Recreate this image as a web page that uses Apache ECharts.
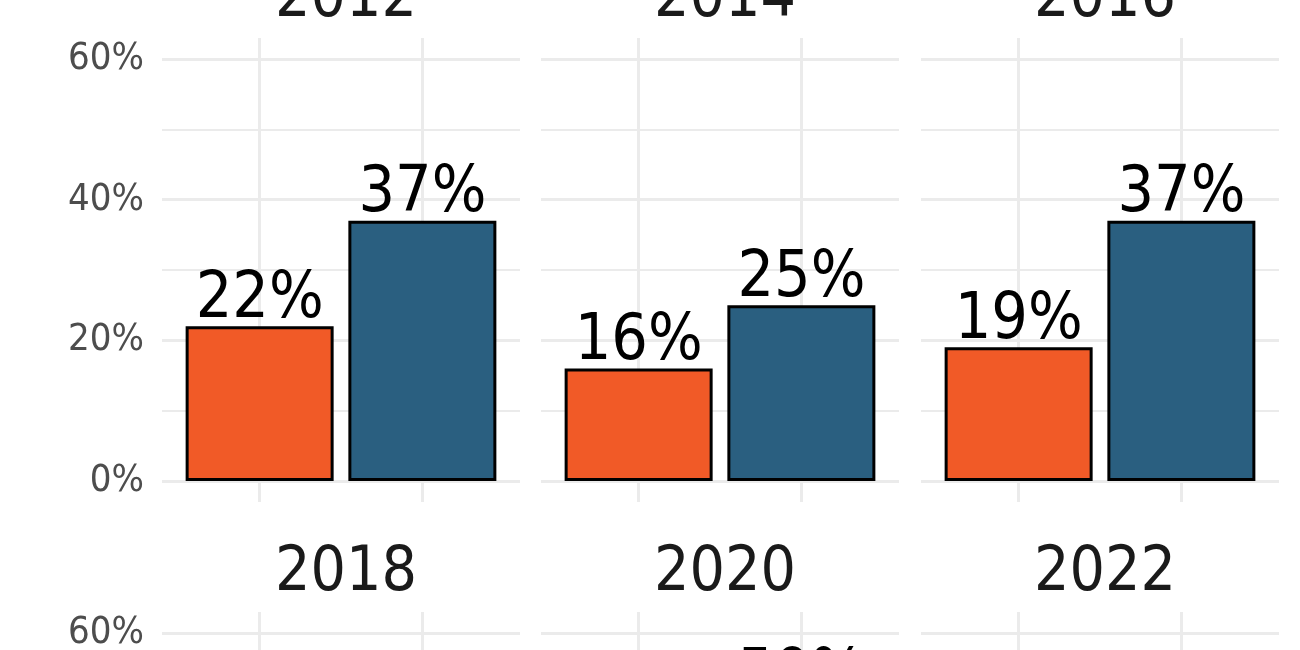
<!DOCTYPE html>
<html><head><meta charset="utf-8">
<script src="https://cdn.jsdelivr.net/npm/echarts@6/dist/echarts.min.js"></script>
<style>
html,body{margin:0;padding:0;overflow:hidden;background:#fff;width:1300px;height:650px}
#c{position:absolute;left:0;top:-100px;width:1300px;height:1250px}
</style>
</head><body><div id="c"></div>
<script>
// Facet titles (years)
const years = ['2012', '2014', '2016', '2018', '2020', '2022'];
// Two groups per panel, drawn at x = 1 and x = 2
const groupPositions = [1, 2];
// Values in percent (bottom-row values of 2018, 2022 and 2020 orange are off-picture estimates)
const orangeValues = [22, 16, 19, 20, 24, 22];
const blueValues = [37, 25, 37, 35, 50, 40];
// Axis tick labels
const yTickValues = [0, 20, 40, 60];
const majorGrid = [0, 20, 40, 60];
const minorGrid = [10, 30, 50];

const ORANGE = '#F15A27';
const BLUE = '#2A5F80';
const FONT = '"DejaVu Sans Condensed", "Liberation Sans Narrow", "Roboto", sans-serif';

const colLeft = [162, 541, 921];
const rowTop = [138, 712];
const gridW = 358, gridH = 464;

const chart = echarts.init(document.getElementById('c'), null, {renderer: 'canvas'});
const grids = [], xAxes = [], yAxes = [], series = [], titles = [];

years.forEach((yr, i) => {
  const col = i % 3, row = Math.floor(i / 3);
  grids.push({left: colLeft[col], top: rowTop[row], width: gridW, height: gridH, containLabel: false});
  xAxes.push({
    gridIndex: i, type: 'value', min: 0.4, max: 2.6,
    axisLine: {show: false}, axisTick: {show: false}, axisLabel: {show: false}, splitLine: {show: false}
  });
  yAxes.push({
    gridIndex: i, type: 'value', min: -3, max: 63,
    axisLine: {show: false}, axisTick: {show: false}, splitLine: {show: false},
    axisLabel: {
      show: col === 0, customValues: yTickValues, formatter: v => v + '%',
      fontFamily: FONT, fontSize: 38, color: '#4d4d4d', margin: 18
    }
  });
  titles.push({
    text: yr, left: colLeft[col] + gridW / 2, top: row === 0 ? 64 : 638, textAlign: 'center',
    textStyle: {fontFamily: FONT, fontSize: 62, fontWeight: 'normal', color: '#1a1a1a', lineHeight: 62}
  });
  const gridData = []
    .concat(majorGrid.map(v => ({yAxis: v, lineStyle: {color: '#ebebeb', width: 3, type: 'solid'}})))
    .concat(minorGrid.map(v => ({yAxis: v, lineStyle: {color: '#ebebeb', width: 2, type: 'solid'}})))
    .concat(groupPositions.map(v => ({xAxis: v, lineStyle: {color: '#ebebeb', width: 3, type: 'solid'}})));
  series.push({
    type: 'bar', xAxisIndex: i, yAxisIndex: i, barWidth: 148, z: 2, silent: true,
    data: [
      {value: [groupPositions[0], orangeValues[i]], itemStyle: {color: ORANGE}},
      {value: [groupPositions[1], blueValues[i]], itemStyle: {color: BLUE}}
    ],
    itemStyle: {borderColor: '#000', borderWidth: 3},
    label: {
      show: true, position: 'top', distance: -6, formatter: p => p.value[1] + '%',
      fontFamily: FONT, fontSize: 64, lineHeight: 64, color: '#000'
    },
    markLine: {
      silent: true, symbol: 'none', z: 1, label: {show: false}, animation: false,
      data: gridData
    },
    animation: false
  });
});

chart.setOption({
  backgroundColor: '#fff',
  animation: false,
  title: titles,
  grid: grids,
  xAxis: xAxes,
  yAxis: yAxes,
  series: series
});
</script>
</body></html>
